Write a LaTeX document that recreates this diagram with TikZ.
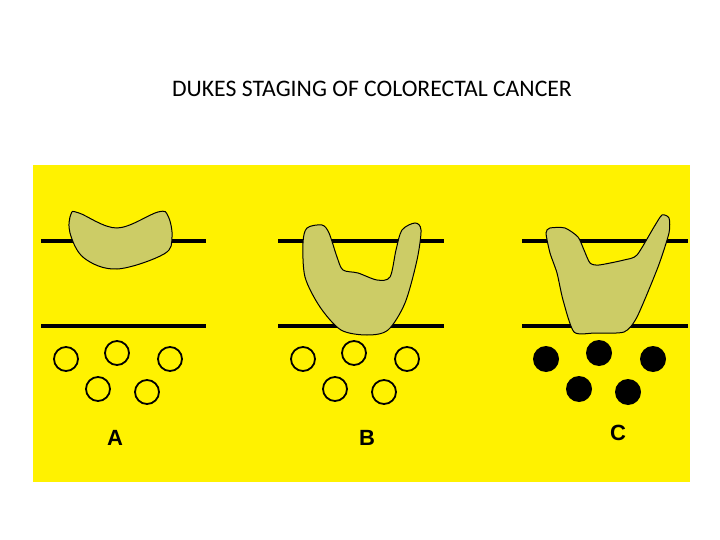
\documentclass[tikz,border=0pt]{standalone}
\usepackage{fontspec}
\setmainfont{Carlito}
\newfontfamily\labfont{Liberation Sans}
\begin{document}
\begin{tikzpicture}[x=1pt,y=-1pt,
 layer/.style={line width=3.5pt},
 tumor/.style={fill=tumorc,draw=black,line width=1pt},
 nodeo/.style={circle,draw=black,line width=1.8pt,minimum size=24pt,inner sep=0pt},
 nodef/.style={circle,fill=black,minimum size=26pt,inner sep=0pt},
 lab/.style={font=\labfont\bfseries\fontsize{22}{22}\selectfont}]
\definecolor{tumorc}{RGB}{204,204,102}
\useasboundingbox (0,0) rectangle (720,540);
\fill[white] (0,0) rectangle (720,540);
\node[font=\fontsize{23.7}{26}\selectfont] (title) at (372,89) {DUKES STAGING OF COLORECTAL CANCER};
\fill[yellow] (33,165) rectangle (690,482);
% layers
\foreach \a/\b in {41/206,278/444,522/688}{
 \draw[layer] (\a,241) -- (\b,241);
 \draw[layer] (\a,326) -- (\b,326);}
% tumours
\draw[tumor] plot[smooth cycle,tension=0.6] coordinates{(71,214)(79,213)(117,228)(158,212)(168,216)(172,237)(164,254)(117,269)(84,258)(70,233)};
\draw[tumor] plot[smooth cycle,tension=0.5] coordinates{(307,228)(322,225)(329,233)(337,257)(343,270)(358,273)(377,280)(390,277)(396,250)(402,230)(415,223)(421,230)(417,260)(405,303)(388,330)(367,335)(341,330)(320,307)(305,277)(303,243)};
\draw[tumor] plot[smooth cycle,tension=0.4] coordinates{(546,233)(550,228)(565,228)(578,237)(584,250)(590,263)(599,265)(624,260)(637,255)(654,227)(662,215)(669,218)(669,233)(658,267)(637,317)(624,332)(595,333)(574,332)(563,300)(557,273)(550,253)};
% nodes
\foreach \dx/\n in {0/a,237/b}{
 \node[nodeo] (\n1) at (66+\dx,359) {};
 \node[nodeo] (\n2) at (117+\dx,353) {};
 \node[nodeo] (\n3) at (170+\dx,359) {};
 \node[nodeo] (\n4) at (98+\dx,389) {};
 \node[nodeo] (\n5) at (147+\dx,392) {};}
\node[nodef] (c1) at (546,359) {};
\node[nodef] (c2) at (599,353) {};
\node[nodef] (c3) at (653,359) {};
\node[nodef] (c4) at (579,389) {};
\node[nodef] (c5) at (628,392) {};
\node[lab] (la) at (115,438) {A};
\node[lab] (lb) at (367,438) {B};
\node[lab] (lc) at (618,433) {C};
\end{tikzpicture}
\end{document}
